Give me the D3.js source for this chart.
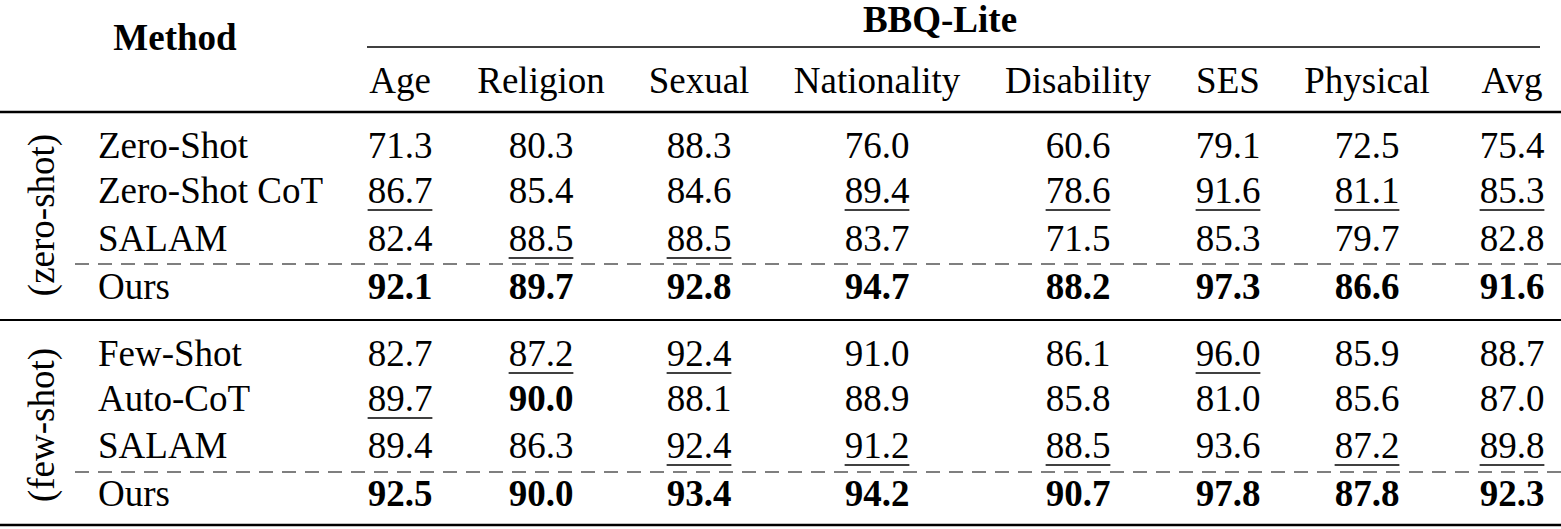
<!DOCTYPE html>
<html lang="en">
<head>
<meta charset="UTF-8">
<script src="https://d3js.org/d3.v7.min.js"></script>
<style>
  body { margin: 0; background: #fff; overflow: hidden; }
  svg { font-family: 'Liberation Serif', 'DejaVu Serif', serif; font-size: 37px; fill: #000; }
  .b { font-weight: bold; }
</style>
</head>
<body>
<svg width="1561" height="529"></svg>
<script>
  const columns = ["Age", "Religion", "Sexual", "Nationality", "Disability", "SES", "Physical", "Avg"];
  const colX = [400, 541, 699, 877, 1078, 1228, 1367, 1512];
  const groups = ["(zero-shot)", "(few-shot)"];
  const methods = [
    ["Zero-Shot", "Zero-Shot CoT", "SALAM", "Ours"],
    ["Few-Shot", "Auto-CoT", "SALAM", "Ours"]
  ];
  const values = [
    [[71.3, 80.3, 88.3, 76.0, 60.6, 79.1, 72.5, 75.4],
     [86.7, 85.4, 84.6, 89.4, 78.6, 91.6, 81.1, 85.3],
     [82.4, 88.5, 88.5, 83.7, 71.5, 85.3, 79.7, 82.8],
     [92.1, 89.7, 92.8, 94.7, 88.2, 97.3, 86.6, 91.6]],
    [[82.7, 87.2, 92.4, 91.0, 86.1, 96.0, 85.9, 88.7],
     [89.7, 90.0, 88.1, 88.9, 85.8, 81.0, 85.6, 87.0],
     [89.4, 86.3, 92.4, 91.2, 88.5, 93.6, 87.2, 89.8],
     [92.5, 90.0, 93.4, 94.2, 90.7, 97.8, 87.8, 92.3]]
  ];
  // 1 = underline (second best), 2 = bold (best)
  const marks = [
    [[0,0,0,0,0,0,0,0],
     [1,0,0,1,1,1,1,1],
     [0,1,1,0,0,0,0,0],
     [2,2,2,2,2,2,2,2]],
    [[0,1,1,0,0,1,0,0],
     [1,2,0,0,0,0,0,0],
     [0,0,1,1,1,0,1,1],
     [2,2,2,2,2,2,2,2]]
  ];

  const svg = d3.select("svg");
  const rowY = [[158, 203, 251, 299], [366, 411, 458, 506]];

  const line = (x1, x2, y, w, dash) => svg.append("line")
    .attr("x1", x1).attr("x2", x2).attr("y1", y).attr("y2", y)
    .attr("stroke", "#000").attr("stroke-width", w)
    .attr("stroke-dasharray", dash || null);

  svg.append("text").attr("class", "b").attr("x", 175).attr("y", 50)
    .attr("text-anchor", "middle").text("Method");
  svg.append("text").attr("class", "b").attr("x", 940).attr("y", 32)
    .attr("text-anchor", "middle").text("BBQ-Lite");
  line(367, 1540, 47, 1.5);
  svg.selectAll(".colh").data(columns).join("text")
    .attr("x", (d, i) => colX[i]).attr("y", 93)
    .attr("text-anchor", "middle").text(d => d);
  line(0, 1561, 112, 2.5);
  line(0, 1561, 320, 2);
  line(0, 1561, 525, 2.5);
  line(75, 1561, 264, 1.2, "14,9");
  line(75, 1561, 472, 1.2, "14,9");

  groups.forEach((gname, gi) => {
    const cy = gi === 0 ? 215 : 425;
    svg.append("text").attr("transform", `translate(54,${cy}) rotate(-90)`)
      .attr("text-anchor", "middle").text(gname);
    methods[gi].forEach((m, ri) => {
      const y = rowY[gi][ri];
      svg.append("text").attr("x", 98).attr("y", y).text(m);
      values[gi][ri].forEach((v, ci) => {
        const mk = marks[gi][ri][ci];
        const t = svg.append("text").attr("x", colX[ci]).attr("y", y)
          .attr("text-anchor", "middle").attr("class", mk === 2 ? "b" : null)
          .text(v.toFixed(1));
        if (mk === 1) {
          const w = t.node().getComputedTextLength();
          line(colX[ci] - w / 2, colX[ci] + w / 2, y + 7, 1.5);
        }
      });
    });
  });
</script>
</body>
</html>
